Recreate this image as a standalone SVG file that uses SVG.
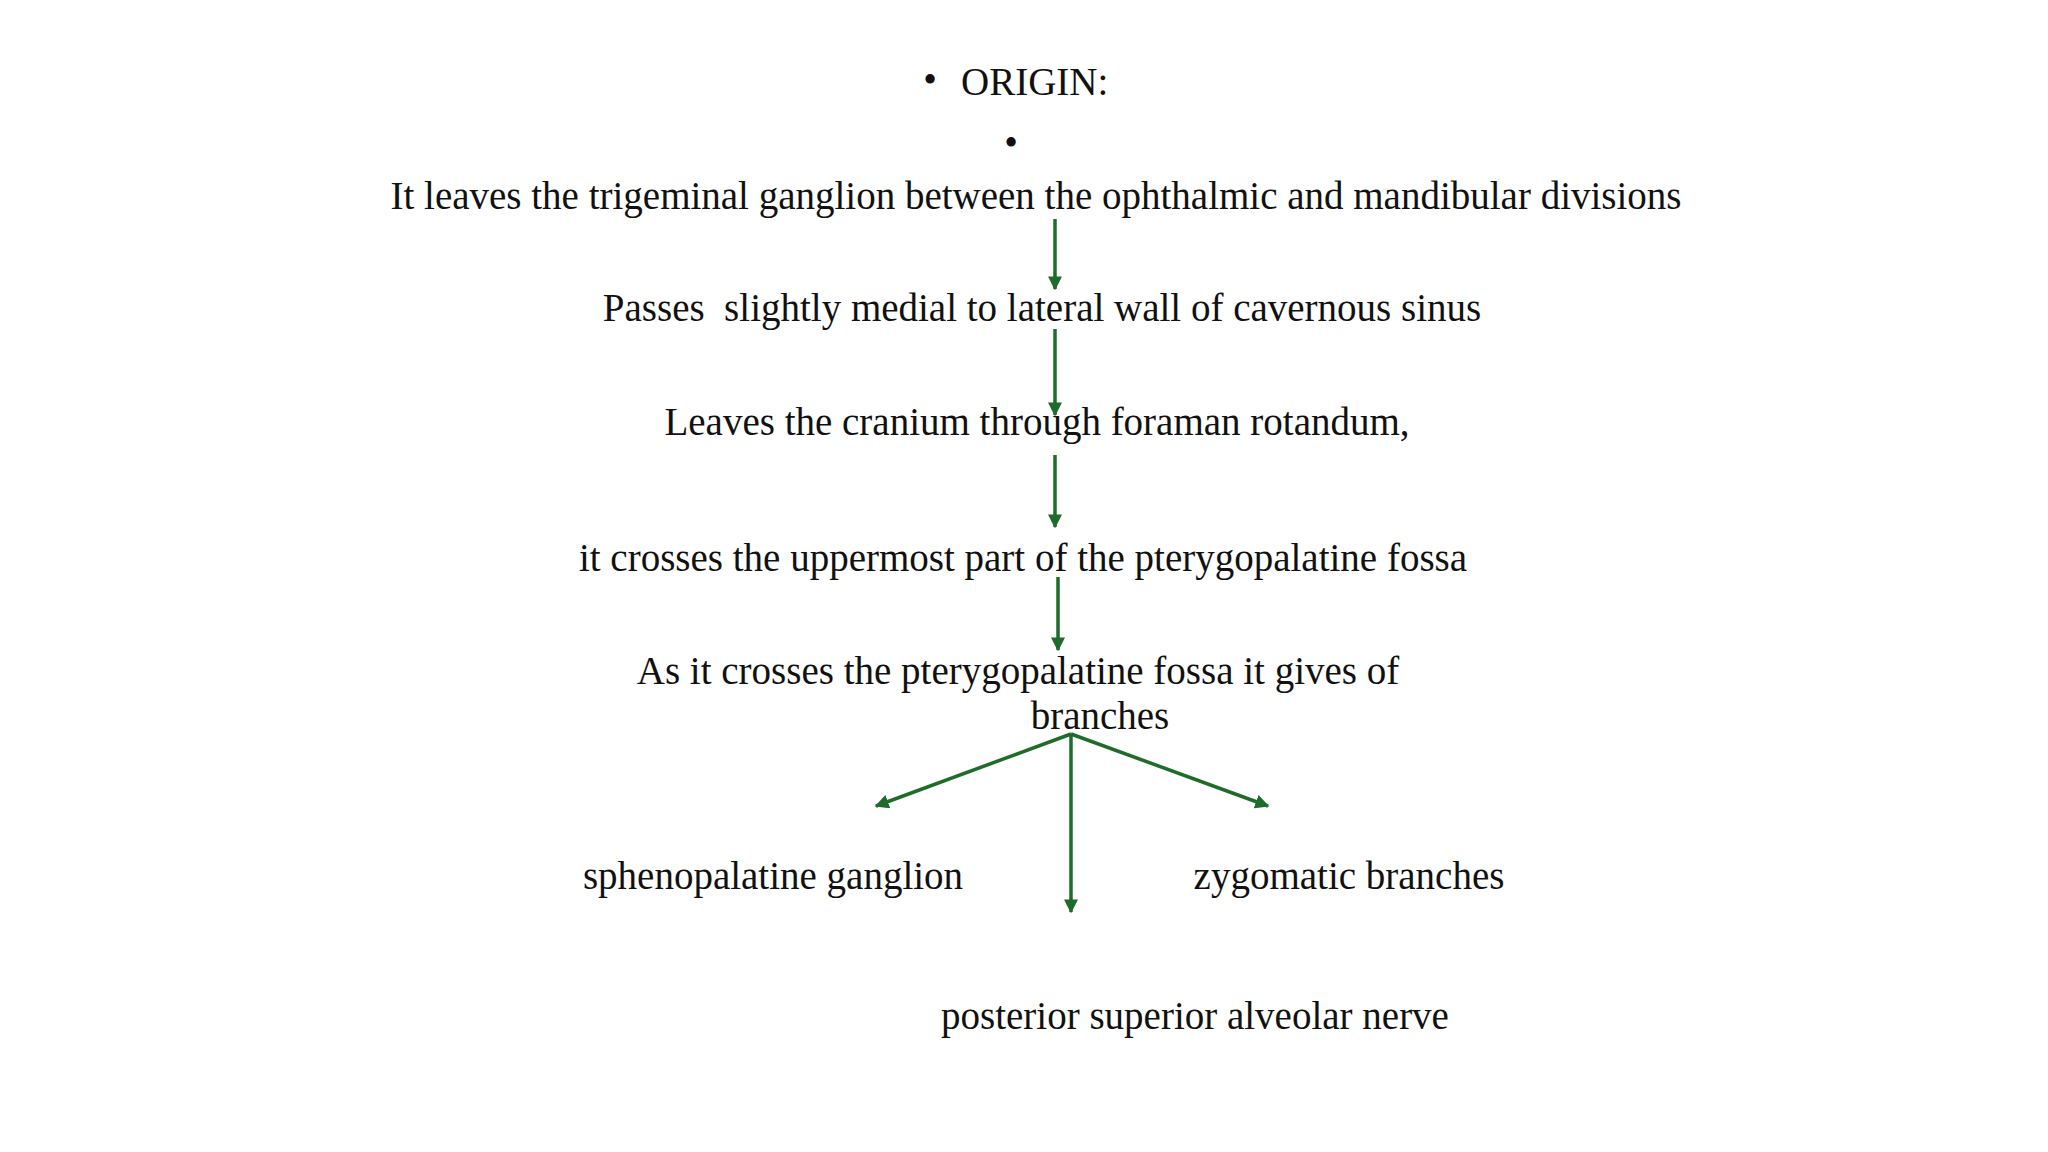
<svg xmlns="http://www.w3.org/2000/svg" width="2048" height="1152" viewBox="0 0 2048 1152">
<style>
text{font-family:"Liberation Serif","Times New Roman",serif;font-size:39px;fill:#111;text-anchor:middle}
.c line{stroke:#1e6b2a;stroke-width:3.5;marker-end:url(#a)}
</style>
<defs><marker id="a" viewBox="0 0 10 10" refX="9" refY="5" markerWidth="4" markerHeight="4" orient="auto" markerUnits="strokeWidth"><path d="M0,0L10,5L0,10z" fill="#1e6b2a"/></marker></defs>
<rect width="2048" height="1152" fill="#fff"/>
<g id="origin"><text x="930" y="93">•</text><text x="961" y="95" style="text-anchor:start">ORIGIN:</text></g>
<g id="bullet"><text x="1011" y="156">•</text></g>
<g id="n1"><text x="1036" y="209">It leaves the trigeminal ganglion between the ophthalmic and mandibular divisions</text></g>
<g id="n2"><text x="1042" y="321" xml:space="preserve">Passes  slightly medial to lateral wall of cavernous sinus</text></g>
<g id="n3"><text x="1037" y="435">Leaves the cranium through foraman rotandum,</text></g>
<g id="n4"><text x="1023" y="571">it crosses the uppermost part of the pterygopalatine fossa</text></g>
<g id="n5"><text x="1018" y="684">As it crosses the pterygopalatine fossa it gives of</text><text x="1100" y="729">branches</text></g>
<g id="n6"><text x="773" y="889">sphenopalatine ganglion</text></g>
<g id="n7"><text x="1349" y="889">zygomatic branches</text></g>
<g id="n8"><text x="1195" y="1029">posterior superior alveolar nerve</text></g>
<g class="c" id="connectors">
<line x1="1055" y1="219" x2="1055" y2="289"/>
<line x1="1055" y1="329" x2="1055" y2="415"/>
<line x1="1055" y1="455" x2="1055" y2="527"/>
<line x1="1058" y1="577" x2="1058" y2="650"/>
<line x1="1071" y1="734" x2="876" y2="806"/>
<line x1="1071" y1="734" x2="1268" y2="806"/>
<line x1="1071" y1="734" x2="1071" y2="912"/>
</g>
</svg>
